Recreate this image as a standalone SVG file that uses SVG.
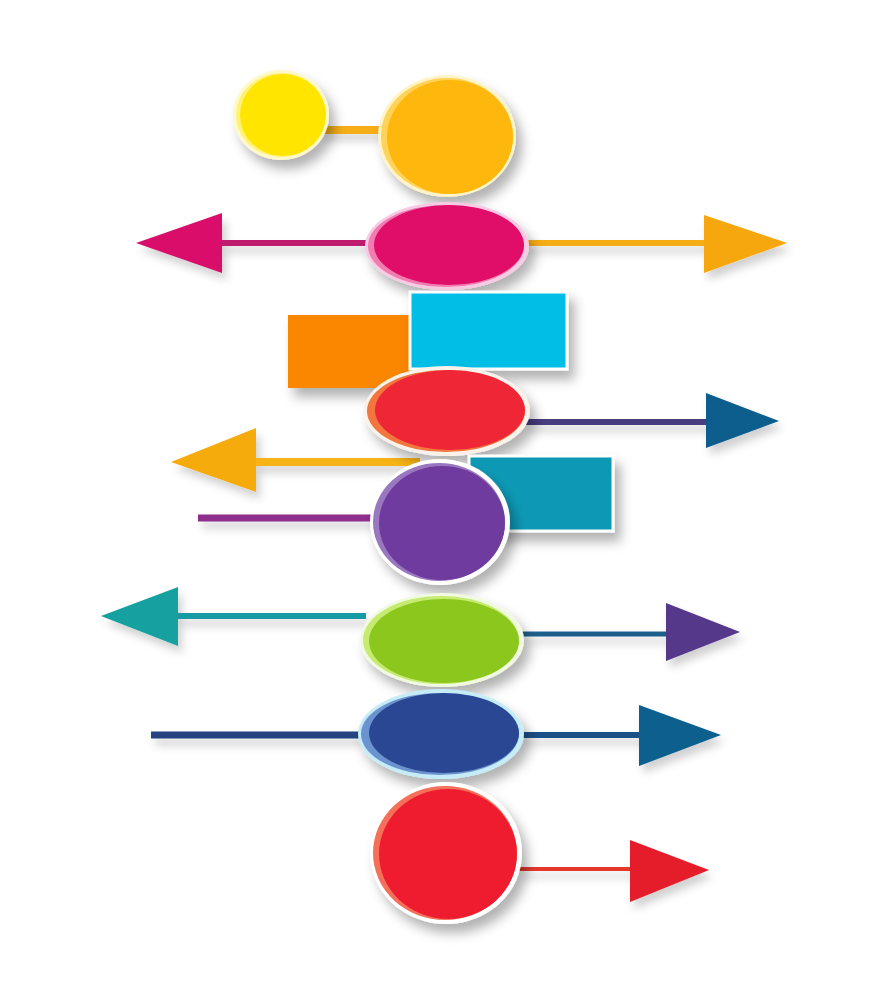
<svg xmlns="http://www.w3.org/2000/svg" width="877" height="1000" viewBox="0 0 877 1000">
<style>
.ln{fill:none;stroke-linecap:butt}
.hd{stroke-linejoin:miter}
</style>
<defs>
<filter id="sh" x="-40%" y="-40%" width="190%" height="190%">
<feDropShadow dx="6" dy="9" stdDeviation="6" flood-color="#000" flood-opacity="0.3"/>
</filter>
<filter id="sha" x="-40%" y="-40%" width="190%" height="190%">
<feDropShadow dx="4" dy="7" stdDeviation="4" flood-color="#000" flood-opacity="0.18"/>
</filter>
</defs>
<rect width="877" height="1000" fill="#ffffff"/>

<g id="connectors" filter="url(#sha)">
<line class="ln" x1="322" y1="130" x2="384" y2="130" stroke="#F6AE14" stroke-width="8"/>
<line class="ln" x1="218" y1="243" x2="372" y2="243" stroke="#BE1E6E" stroke-width="6"/>
<polygon class="hd" points="136,243 222,213 222,273" fill="#D9106B"/>
<line class="ln" x1="522" y1="243" x2="708" y2="243" stroke="#F6AE14" stroke-width="6"/>
<polygon class="hd" points="704,215 787,243 704,273" fill="#F5A70C"/>
<line class="ln" x1="526" y1="422" x2="710" y2="422" stroke="#483E82" stroke-width="6"/>
<polygon class="hd" points="706,393 779,421 706,448" fill="#0C5D8D"/>
<line class="ln" x1="252" y1="462" x2="420" y2="462" stroke="#F8B414" stroke-width="8"/>
<polygon class="hd" points="171,462 256,428 256,492" fill="#F6AB10"/>
<line class="ln" x1="198" y1="518" x2="376" y2="518" stroke="#8E2E8D" stroke-width="7"/>
<line class="ln" x1="176" y1="616" x2="366" y2="616" stroke="#159BA5" stroke-width="6"/>
<polygon class="hd" points="101,616 178,587 178,646" fill="#14A1A0"/>
<line class="ln" x1="520" y1="634" x2="668" y2="634" stroke="#1E5F8B" stroke-width="5"/>
<polygon class="hd" points="666,603 740,632 666,661" fill="#56398B"/>
<line class="ln" x1="151" y1="735" x2="364" y2="735" stroke="#25427F" stroke-width="7"/>
<line class="ln" x1="518" y1="735" x2="643" y2="735" stroke="#1E4F86" stroke-width="6"/>
<polygon class="hd" points="639,705 721,735 639,766" fill="#0D5F8D"/>
<line class="ln" x1="516" y1="869" x2="634" y2="869" stroke="#E5392A" stroke-width="4"/>
<polygon class="hd" points="630,840 709,870 630,902" fill="#E51F29"/>
</g>

<g id="n-yellow" filter="url(#sh)">
<ellipse cx="281" cy="115" rx="48" ry="45" fill="#FFF8C8"/>
<ellipse cx="281" cy="115" rx="45" ry="42" fill="#FFF27A"/>
<ellipse cx="283" cy="115" rx="43" ry="41" fill="#FFE500"/>
</g>
<g id="n-orange" filter="url(#sh)">
<ellipse cx="447" cy="136" rx="69" ry="61" fill="#FFF4C8"/>
<ellipse cx="447" cy="136" rx="66" ry="58" fill="#FFD25A"/>
<ellipse cx="450" cy="137" rx="63" ry="57" fill="#FDB707"/>
</g>
<g id="n-magenta" filter="url(#sh)">
<ellipse cx="447" cy="246" rx="82" ry="44" fill="#F8CBE4"/>
<ellipse cx="446" cy="246" rx="78" ry="41" fill="#F27CB0"/>
<ellipse cx="449" cy="245" rx="75" ry="40" fill="#E00B69"/>
</g>
<g id="n-orange-rect" filter="url(#sh)">
<rect x="288" y="315" width="132" height="73" fill="#FB8603"/>
</g>
<g id="n-cyan-rect" filter="url(#sh)">
<rect x="410" y="292" width="157" height="77" fill="#06BEE6" stroke="#ffffff" stroke-width="3"/>
</g>
<g id="n-red-1" filter="url(#sh)">
<ellipse cx="447" cy="411" rx="83" ry="45" fill="#F8F2EA"/>
<ellipse cx="446" cy="411" rx="79" ry="41" fill="#F2763E"/>
<ellipse cx="450" cy="410" rx="75" ry="40" fill="#EE2536"/>
</g>
<g id="n-teal-rect" filter="url(#sh)">
<rect x="469" y="456" width="144" height="75" fill="#0899B5" stroke="#ffffff" stroke-width="3"/>
</g>
<g id="n-purple" filter="url(#sh)">
<ellipse cx="440" cy="522" rx="70" ry="63" fill="#FFFFFF"/>
<ellipse cx="439" cy="522" rx="66" ry="59" fill="#9A78C0"/>
<ellipse cx="442" cy="523" rx="63" ry="57" fill="#6F3A9E"/>
</g>
<g id="n-green" filter="url(#sh)">
<ellipse cx="442" cy="640" rx="82" ry="47" fill="#F0FAE0"/>
<ellipse cx="441" cy="640" rx="78" ry="44" fill="#C6EB73"/>
<ellipse cx="444" cy="641" rx="75" ry="42" fill="#8BC71B"/>
</g>
<g id="n-blue" filter="url(#sh)">
<ellipse cx="441" cy="734" rx="83" ry="45" fill="#C6ECF8"/>
<ellipse cx="440" cy="734" rx="79" ry="41" fill="#6B93CF"/>
<ellipse cx="444" cy="733" rx="75" ry="40" fill="#2C4693"/>
</g>
<g id="n-red-2" filter="url(#sh)">
<ellipse cx="446" cy="853" rx="76" ry="71" fill="#FFFFFF"/>
<ellipse cx="445" cy="853" rx="72" ry="67" fill="#F4705A"/>
<ellipse cx="448" cy="854" rx="69" ry="65" fill="#EE1F2E"/>
</g>
</svg>
